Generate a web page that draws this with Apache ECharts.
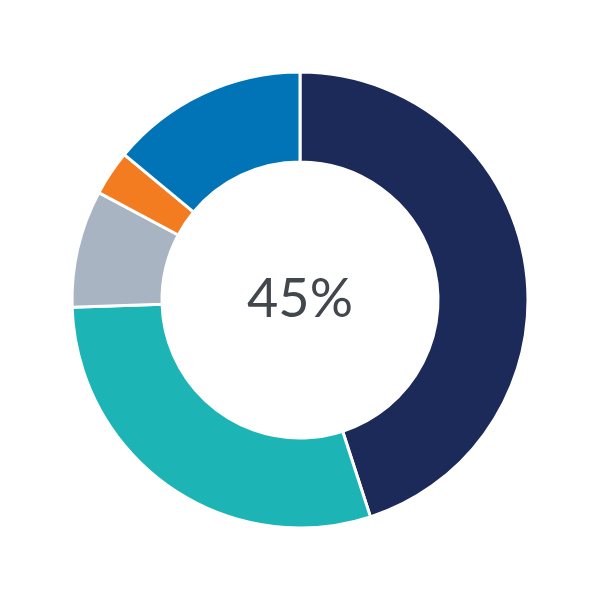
<!DOCTYPE html>
<html lang="en">
<head>
    <meta charset="utf-8">
    <script src="https://cdn.jsdelivr.net/npm/echarts@6/dist/echarts.min.js"></script>
    <style>
        html, body { margin: 0; padding: 0; background: #fff; }
        #donut { width: 600px; height: 600px; }
    </style>
</head>
<body>
<div id="donut"></div>
<script>
    // slices, clockwise from 12 o'clock
    var names = ['A', 'B', 'C', 'D', 'E'];
    var values = [45, 29.5, 8.3, 3.2, 14];
    var colors = ['#1c2a5a', '#1db4b5', '#a9b4c2', '#f37b20', '#0074b7'];
    var centerLabel = '45%';

    var chart = echarts.init(document.getElementById('donut'));

    var data = [];
    for (var i = 0; i < values.length; i++) {
        data.push({ name: names[i], value: values[i], itemStyle: { color: colors[i] } });
    }

    chart.setOption({
        animation: false,
        title: {
            text: centerLabel,
            left: 'center',
            top: 'middle',
            textStyle: {
                fontFamily: 'Lato',
                fontSize: 54,
                fontWeight: 'normal',
                color: '#42474e'
            }
        },
        series: [
            {
                type: 'pie',
                center: ['50%', '50%'],
                radius: ['46%', '76%'],
                startAngle: 90,
                clockwise: true,
                label: { show: false },
                labelLine: { show: false },
                itemStyle: {
                    borderColor: '#fff',
                    borderWidth: 3
                },
                emphasis: { disabled: true },
                data: data
            }
        ]
    });
</script>
</body>
</html>
